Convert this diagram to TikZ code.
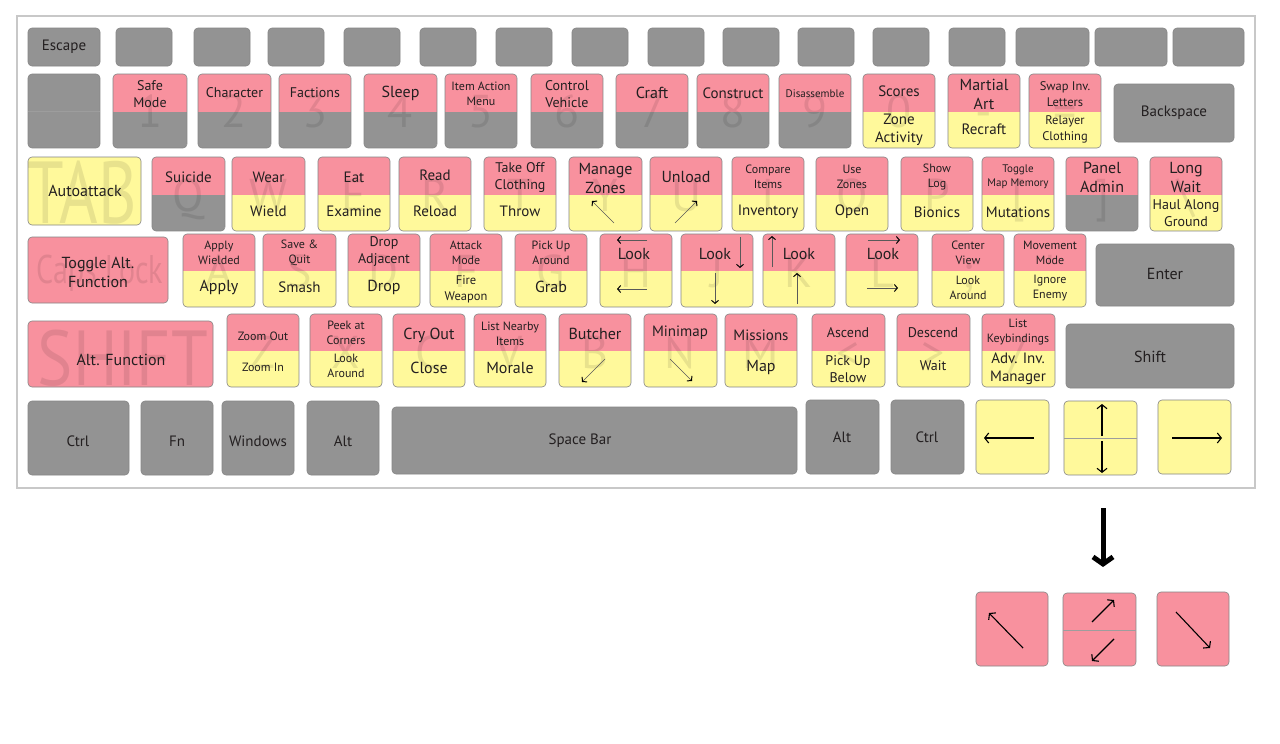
\documentclass[tikz,border=0pt]{standalone}
\usepackage{fontspec}
\setmainfont{PT Sans}
\usepackage{graphicx}
\usetikzlibrary{arrows.meta}
\definecolor{keygray}{HTML}{939393}
\definecolor{keypink}{HTML}{F8919E}
\definecolor{keyyel}{HTML}{FFF99B}
\definecolor{keyline}{HTML}{858585}
\definecolor{framec}{HTML}{C8C8C8}
\definecolor{inkc}{HTML}{231F20}
\newcommand\keyplain[5]{\draw[keyedge,fill=#5] (#1,#2) rectangle (#3,#4);}
\newcommand\keysplit[7]{%
  \begin{scope}
    \clip[rounded corners=4] (#1,#2) rectangle (#3,#4);
    \fill[#6] (#1,#2) rectangle (#3,#5);
    \fill[#7] (#1,#5) rectangle (#3,#4);
  \end{scope}
  \draw[keyedge] (#1,#2) rectangle (#3,#4);}
\newcommand\keydiv[3]{\draw[divl] (#1,#3) -- (#2,#3);}
\newcommand\ghost[4]{\node[ghostl] (#1) at (#2,#3) {#4};}
\tikzset{
  keyedge/.style={draw=keyline,line width=0.6pt,rounded corners=4},
  divl/.style={draw=keyline!80,line width=0.8pt},
  lbl/.style={inner sep=0pt,align=center,text=inkc},
  f16/.style={lbl,font=\fontsize{16}{19}\selectfont},
  f15/.style={lbl,font=\fontsize{15}{18}\selectfont},
  f14/.style={lbl,font=\fontsize{14}{17}\selectfont},
  f13/.style={lbl,font=\fontsize{12.5}{16}\selectfont},
  f12/.style={lbl,font=\fontsize{12}{15}\selectfont},
  f11/.style={lbl,font=\fontsize{11}{13.5}\selectfont},
  ghostl/.style={inner sep=0pt,anchor=base,text=black,text opacity=0.09,font=\fontsize{46}{46}\selectfont},
  smallarr/.style={draw=black!65,line width=0.5pt,-{Straight Barb[length=3pt,width=7pt,line width=1pt,color=black]}},
  keyarr/.style={draw=black,line width=1.1pt,-{Straight Barb[length=4pt,width=10pt]}},
  bigarr/.style={draw=black,line width=5pt,-{Straight Barb[length=7pt,width=20pt]}}
}
\begin{document}
\begin{tikzpicture}[x=1pt,y=-1pt]
\useasboundingbox (0,0) rectangle (1280,744);
\fill[white] (0,0) rectangle (1280,744);
\draw[framec,line width=1.2pt,fill=white] (17,16) rectangle (1255,488);

% ---------- Row 1 ----------
\keyplain{28}{28}{100}{66}{keygray}
\foreach \a/\b in {116/172,194/250,268/324,344/400,420/476,496/552,572/628,648/704,723/779,798/854,873/929,949/1005,1016/1089,1095/1167,1173/1244}
  {\keyplain{\a}{28}{\b}{66}{keygray}}
\node[f15] (esc) at (64,47) {Escape};

% ---------- Row 2 ----------
\keysplit{28}{74}{100}{148}{111}{keygray}{keygray}\keydiv{28}{100}{111}
\foreach \a/\b in {113/187,198/271,279/351,364/437,445/517,531/603,616/688,697/769,779/851}
  {\keysplit{\a}{74}{\b}{148}{112}{keypink}{keygray}}
\keysplit{863}{74}{935}{148}{112}{keypink}{keyyel}
\keysplit{948}{74}{1020}{148}{112}{keypink}{keyyel}
\keysplit{1029}{74}{1101}{148}{112}{keypink}{keyyel}
\keyplain{1114}{84}{1234}{142}{keygray}

% ---------- Row 3 ----------
\keyplain{28}{157}{141}{225}{keyyel}
\keysplit{152}{157}{225}{231}{195}{keypink}{keygray}
\foreach \a/\b in {232/305,318/390,399/471,484/556,569/642,650/722,732/804,816/888,901/973,982/1054}
  {\keysplit{\a}{157}{\b}{231}{195}{keypink}{keyyel}}
\keysplit{1066}{157}{1138}{231}{195}{keypink}{keygray}
\keysplit{1150}{157}{1222}{231}{195}{keypink}{keyyel}

% ---------- Row 4 ----------
\keyplain{28}{237}{168}{303}{keypink}
\foreach \a/\b in {183/255,263/336,348/420,430/502,515/587,600/672,681/753,763/835,846/918,932/1004,1014/1086}
  {\keysplit{\a}{234}{\b}{307}{271}{keypink}{keyyel}}
\keyplain{1096}{244}{1234}{306}{keygray}

% ---------- Row 5 ----------
\keyplain{28}{321}{213}{387}{keypink}
\foreach \a/\b in {227/299,310/382,393/465,474/546,559/631,644/717,725/797,812/885,897/970,982/1055}
  {\keysplit{\a}{314}{\b}{387}{351}{keypink}{keyyel}}
\keyplain{1066}{324}{1234}{388}{keygray}

% ---------- Row 6 ----------
\keyplain{28}{401}{129}{475}{keygray}
\keyplain{141}{401}{213}{475}{keygray}
\keyplain{222}{401}{294}{475}{keygray}
\keyplain{307}{401}{379}{475}{keygray}
\keyplain{392}{407}{797}{474}{keygray}
\keyplain{806}{400}{879}{474}{keygray}
\keyplain{891}{400}{964}{474}{keygray}
\keyplain{976}{400}{1049}{474}{keyyel}
\keysplit{1064}{401}{1137}{475}{438}{keyyel}{keyyel}\keydiv{1064}{1137}{438}
\keyplain{1158}{400}{1231}{474}{keyyel}

% ---------- ghost letters ----------
\node[ghostl,font=\fontsize{88}{88}\selectfont] (gtab) at (82,223) {\scalebox{0.75}[1]{TAB}};
\node[ghostl,font=\fontsize{40}{40}\selectfont] (gcaps) at (100,283) {\scalebox{0.75}[1]{Caps Lock}};
\node[ghostl,font=\fontsize{78}{78}\selectfont] (gshift) at (123,385) {\scalebox{0.85}[1]{SHIFT}};
\ghost{g1}{150}{127}{1}\ghost{g2}{234.5}{127}{2}\ghost{g3}{315}{127}{3}
\ghost{g4}{400.5}{127}{4}\ghost{g5}{481}{127}{5}\ghost{g6}{567}{127}{6}
\ghost{g7}{652}{127}{7}\ghost{g8}{733}{127}{8}\ghost{g9}{815}{127}{9}
\ghost{g0}{899}{127}{0}\ghost{gmin}{984}{127}{-}\ghost{geq}{1065}{127}{=}
\ghost{gq}{188.5}{211}{Q}\ghost{gw}{268.5}{211}{W}\ghost{ge}{354}{211}{E}
\ghost{gr}{435}{211}{R}\ghost{gt}{520}{211}{T}\ghost{gy}{605.5}{211}{Y}
\ghost{gu}{686}{211}{U}\ghost{gi}{768}{211}{I}\ghost{go}{852}{211}{O}
\ghost{gp}{937}{211}{P}\ghost{glb}{1018}{211}{[}\ghost{grb}{1102}{211}{]}
\ghost{gbs}{1186}{211}{\textbackslash}
\ghost{ga}{219}{287}{A}\ghost{gs}{299.5}{287}{S}\ghost{gd}{384}{287}{D}
\ghost{gf}{466}{287}{F}\ghost{gg}{551}{287}{G}\ghost{gh}{636}{287}{H}
\ghost{gj}{717}{287}{J}\ghost{gk}{799}{287}{K}\ghost{gl}{882}{287}{L}
\ghost{gsc}{968}{287}{;}\ghost{gap}{1050}{287}{\textquotesingle}
\ghost{gz}{263}{368}{Z}\ghost{gx}{346}{368}{X}\ghost{gc}{429}{368}{C}
\ghost{gv}{510}{368}{V}\ghost{gb}{595}{368}{B}\ghost{gn}{680}{368}{N}
\ghost{gm}{761}{368}{M}\ghost{glt}{848}{368}{<}\ghost{ggt}{933}{368}{>}
\ghost{gsl}{1018}{368}{/}

% ---------- Row 2 labels ----------
\node[f14] (t1) at (150,94) {Safe\\Mode};
\node[f14] (t2) at (234.5,93) {Character};
\node[f14] (t3) at (315,93) {Factions};
\node[f16] (t4) at (400.5,93) {Sleep};
\node[f12] (t5) at (481,94) {Item Action\\Menu};
\node[f14] (t6) at (567,94) {Control\\Vehicle};
\node[f16] (t7) at (652,93) {Craft};
\node[f15] (t8) at (733,93) {Construct};
\node[f11] (t9) at (815,94) {Disassemble};
\node[f15] (t0) at (899,91) {Scores};
\node[f15] (b0) at (899,130) {Zone\\Activity};
\node[f16] (tmin) at (984,94) {Martial\\Art};
\node[f15] (bmin) at (984,129) {Recraft};
\node[f13] (teq) at (1065,94) {Swap Inv.\\Letters};
\node[f13] (beq) at (1065,129) {Relayer\\Clothing};
\node[f15] (bksp) at (1174,113) {Backspace};

% ---------- Row 3 labels ----------
\node[f16] (tab) at (85,191) {Autoattack};
\node[f15] (tq) at (188.5,177) {Suicide};
\node[f15] (tw) at (268.5,177) {Wear};
\node[f15] (bw) at (268.5,211) {Wield};
\node[f15] (te) at (354,177) {Eat};
\node[f15] (be) at (354,211) {Examine};
\node[f15] (tr) at (435,175) {Read};
\node[f15] (br) at (435,211) {Reload};
\node[f14] (tt) at (520,177) {Take Off\\Clothing};
\node[f15] (bt) at (520,211) {Throw};
\node[f16] (ty) at (605.5,178) {Manage\\Zones};
\node[f16] (tu) at (686,177) {Unload};
\node[f12] (ti) at (768,177) {Compare\\Items};
\node[f15] (bi) at (768,212) {Inventory};
\node[f12] (to) at (852,177) {Use\\Zones};
\node[f15] (bo) at (852,212) {Open};
\node[f12] (tp) at (937,177) {Show\\Log};
\node[f15] (bp) at (937,212) {Bionics};
\node[f11] (tlb) at (1018,177) {Toggle\\Map Memory};
\node[f15] (blb) at (1018,212) {Mutations};
\node[f16] (trb) at (1102,177) {Panel\\Admin};
\node[f16] (tbs) at (1186,177) {Long\\Wait};
\node[f14] (bbs) at (1186,213) {Haul Along\\Ground};

% ---------- Row 4 labels ----------
\node[f16] (caps) at (98,272) {Toggle Alt.\\Function};
\node[f12] (ta) at (219,253) {Apply\\Wielded};
\node[f16] (ba) at (219,287) {Apply};
\node[f12] (ts) at (299.5,253) {Save \&\\Quit};
\node[f15] (bs) at (299.5,287) {Smash};
\node[f14] (td) at (384,252) {Drop\\Adjacent};
\node[f16] (bd) at (384,287) {Drop};
\node[f12] (tf) at (466,253) {Attack\\Mode};
\node[f13] (bf) at (466,289) {Fire\\Weapon};
\node[f12] (tg) at (551,253) {Pick Up\\Around};
\node[f16] (bg) at (551,287) {Grab};
\node[f16] (th) at (634,254) {Look};
\node[f16] (tj) at (715,254) {Look};
\node[f16] (tk) at (799,254) {Look};
\node[f16] (tl) at (883,254) {Look};
\node[f12] (tsc) at (968,253) {Center\\View};
\node[f12] (bsc) at (968,288) {Look\\Around};
\node[f12] (tap) at (1050,253) {Movement\\Mode};
\node[f12] (bap) at (1050,288) {Ignore\\Enemy};
\node[f16] (enter) at (1165,274) {Enter};

% ---------- Row 5 labels ----------
\node[f16] (lshift) at (121,360) {Alt. Function};
\node[f12] (tz) at (263,336) {Zoom Out};
\node[f12] (bz) at (263,367) {Zoom In};
\node[f12] (tx) at (346,333) {Peek at\\Corners};
\node[f12] (bx) at (346,366) {Look\\Around};
\node[f16] (tc) at (429,335) {Cry Out};
\node[f16] (bc) at (429,368) {Close};
\node[f12] (tv) at (510,334) {List Nearby\\Items};
\node[f16] (bv) at (510,368) {Morale};
\node[f16] (tb) at (595,334) {Butcher};
\node[f15] (tn) at (680,333) {Minimap};
\node[f15] (tm) at (761,335) {Missions};
\node[f16] (bm) at (761,367) {Map};
\node[f14] (tlt) at (848,333) {Ascend};
\node[f14] (blt) at (848,369) {Pick Up\\Below};
\node[f14] (tgt) at (933,333) {Descend};
\node[f14] (bgt) at (933,366) {Wait};
\node[f12] (tsl) at (1018,332) {List\\Keybindings};
\node[f15] (bsl) at (1018,369) {Adv. Inv.\\Manager};
\node[f16] (rshift) at (1150,357) {Shift};

% ---------- Row 6 labels ----------
\node[f15] (lctrl) at (78,441) {Ctrl};
\node[f15] (fn) at (177,441) {Fn};
\node[f15] (win) at (258,441) {Windows};
\node[f15] (lalt) at (343,441) {Alt};
\node[f15] (space) at (580,441) {Space Bar};
\node[f15] (ralt) at (842,437) {Alt};
\node[f15] (rctrl) at (927,437) {Ctrl};

% ---------- small arrows in keys ----------
\draw[smallarr] (614,223) -- (592,201);
\draw[smallarr] (675,223) -- (697,201);
\draw[smallarr] (647,240) -- (617,240);
\draw[smallarr] (647,289) -- (617,289);
\draw[smallarr] (740,237) -- (740,268);
\draw[smallarr] (715,273) -- (715,304);
\draw[smallarr] (772,267) -- (772,236);
\draw[smallarr] (797,304) -- (797,273);
\draw[smallarr] (868,240) -- (900,240);
\draw[smallarr] (867,288) -- (898,288);
\draw[smallarr] (605,359) -- (582,382);
\draw[smallarr] (670,359) -- (692,381);

% ---------- arrow keys ----------
\draw[keyarr] (1034,438) -- (984,438);
\draw[keyarr] (1102,436) -- (1102,404);
\draw[keyarr] (1102,441) -- (1102,473);
\draw[keyarr] (1172,438) -- (1222,438);

% ---------- big arrow and diagonal keys ----------
\coordinate (bigfrom) at (1103,508);
\coordinate (bigto) at (1103,567);
\draw[bigarr] (bigfrom) -- (bigto);
\keyplain{976}{592}{1048}{666}{keypink}
\keysplit{1063}{593}{1136}{666}{630}{keypink}{keypink}\keydiv{1063}{1136}{630}
\keyplain{1157}{592}{1229}{666}{keypink}
\draw[keyarr] (1023,648) -- (989,613);
\draw[keyarr] (1092,622) -- (1114,600);
\draw[keyarr] (1114,639) -- (1092,661);
\draw[keyarr] (1176,612) -- (1210,648);
\end{tikzpicture}
\end{document}
